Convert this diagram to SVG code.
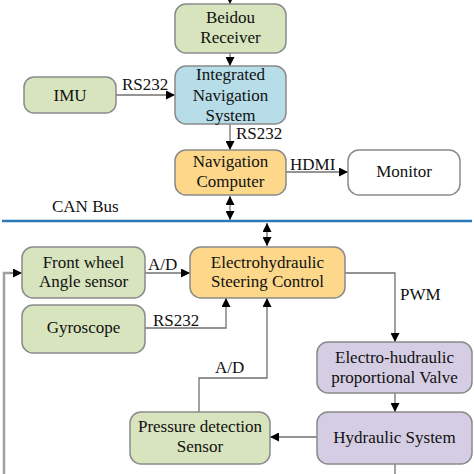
<svg xmlns="http://www.w3.org/2000/svg" width="474" height="474" viewBox="0 0 474 474" font-family="'Liberation Serif', 'DejaVu Serif', serif">
<defs>
<marker id="ah" viewBox="0 0 10 10" refX="10" refY="5" markerWidth="9" markerHeight="9" markerUnits="userSpaceOnUse" orient="auto-start-reverse">
<path d="M0,0 L10,5 L0,10 Z" fill="#000"/>
</marker>
</defs>
<style>
.box{stroke:#8a8a8a;stroke-width:1.5}
.g{fill:#d7e4bd}.b{fill:#b7dde8}.y{fill:#fdd88a}.p{fill:#d5cde3}.w{fill:#fff}
text{font-family:'Liberation Serif','DejaVu Serif',serif;font-size:17px;fill:#111}
.c{text-anchor:middle}
.ln{fill:none;stroke:#707070;stroke-width:1.3}
</style>
<rect width="474" height="474" fill="#fff"/>
<g id="connectors">
<path class="ln" d="M230,-6 V4" marker-end="url(#ah)"/>
<path class="ln" d="M230,53 V66" marker-end="url(#ah)"/>
<path class="ln" d="M116,95 H175" marker-end="url(#ah)"/>
<path class="ln" d="M230,124 V150" marker-end="url(#ah)"/>
<path class="ln" d="M286,172 H348" marker-end="url(#ah)"/>
<path class="ln" d="M230,196 V220" marker-start="url(#ah)" marker-end="url(#ah)"/>
<path class="ln" d="M267,223 V246" marker-start="url(#ah)" marker-end="url(#ah)"/>
<path class="ln" d="M145,273 H190" marker-end="url(#ah)"/>
<path class="ln" d="M145,328 H226 V298" marker-end="url(#ah)"/>
<path class="ln" d="M199,412 V378 H267 V298" marker-end="url(#ah)"/>
<path class="ln" d="M345,273 H395 V342" marker-end="url(#ah)"/>
<path class="ln" d="M395,393 V412" marker-end="url(#ah)"/>
<path class="ln" d="M317,437 H270" marker-end="url(#ah)"/>
<path class="ln" d="M395,464 V474"/>
<path fill="none" stroke="#a0a0a0" stroke-width="2.5" d="M4,474 V273 H12"/>
<path class="ln" d="M10,273 H22" marker-end="url(#ah)"/>
<line x1="2" y1="221" x2="472" y2="221" stroke="#2a7ab8" stroke-width="2.5"/>
<text x="122" y="90">RS232</text>
<text x="236" y="139">RS232</text>
<text x="290" y="170">HDMI</text>
<text x="52" y="212">CAN Bus</text>
<text x="148" y="270">A/D</text>
<text x="400" y="300">PWM</text>
<text x="153" y="326">RS232</text>
<text x="215" y="373">A/D</text>
</g>
<g id="beidou"><rect class="box g" x="175" y="4" width="111" height="49" rx="11"/>
<text class="c" x="230.5" y="23">Beidou</text><text class="c" x="230.5" y="43">Receiver</text></g>
<g id="ins"><rect class="box b" x="175" y="66" width="111" height="58" rx="11"/>
<text class="c" x="230.5" y="80">Integrated</text><text class="c" x="230.5" y="101">Navigation</text><text class="c" x="230.5" y="121">System</text></g>
<g id="imu"><rect class="box g" x="24" y="77" width="92" height="36" rx="10"/>
<text class="c" x="70" y="101">IMU</text></g>
<g id="navcomp"><rect class="box y" x="175" y="150" width="111" height="45" rx="11"/>
<text class="c" x="230.5" y="167">Navigation</text><text class="c" x="230.5" y="187">Computer</text></g>
<g id="monitor"><rect class="box w" x="348" y="150" width="112" height="45" rx="11"/>
<text class="c" x="404" y="177">Monitor</text></g>
<g id="frontwheel"><rect class="box g" x="22" y="247" width="123" height="51" rx="11"/>
<text class="c" x="83.5" y="268">Front wheel</text><text class="c" x="83.5" y="287">Angle sensor</text></g>
<g id="ehsc"><rect class="box y" x="190" y="247" width="155" height="51" rx="11"/>
<text class="c" x="267.5" y="268">Electrohydraulic</text><text class="c" x="267.5" y="287">Steering Control</text></g>
<g id="gyro"><rect class="box g" x="22" y="305" width="123" height="48" rx="11"/>
<text class="c" x="83.5" y="333">Gyroscope</text></g>
<g id="valve"><rect class="box p" x="317" y="342" width="155" height="51" rx="11"/>
<text class="c" x="394.5" y="363">Electro-hudraulic</text><text class="c" x="394.5" y="383">proportional Valve</text></g>
<g id="hydraulic"><rect class="box p" x="317" y="412" width="155" height="52" rx="11"/>
<text class="c" x="394.5" y="443">Hydraulic System</text></g>
<g id="pressure"><rect class="box g" x="130" y="412" width="140" height="52" rx="11"/>
<text class="c" x="200" y="432">Pressure detection</text><text class="c" x="200" y="452">Sensor</text></g>
</svg>
